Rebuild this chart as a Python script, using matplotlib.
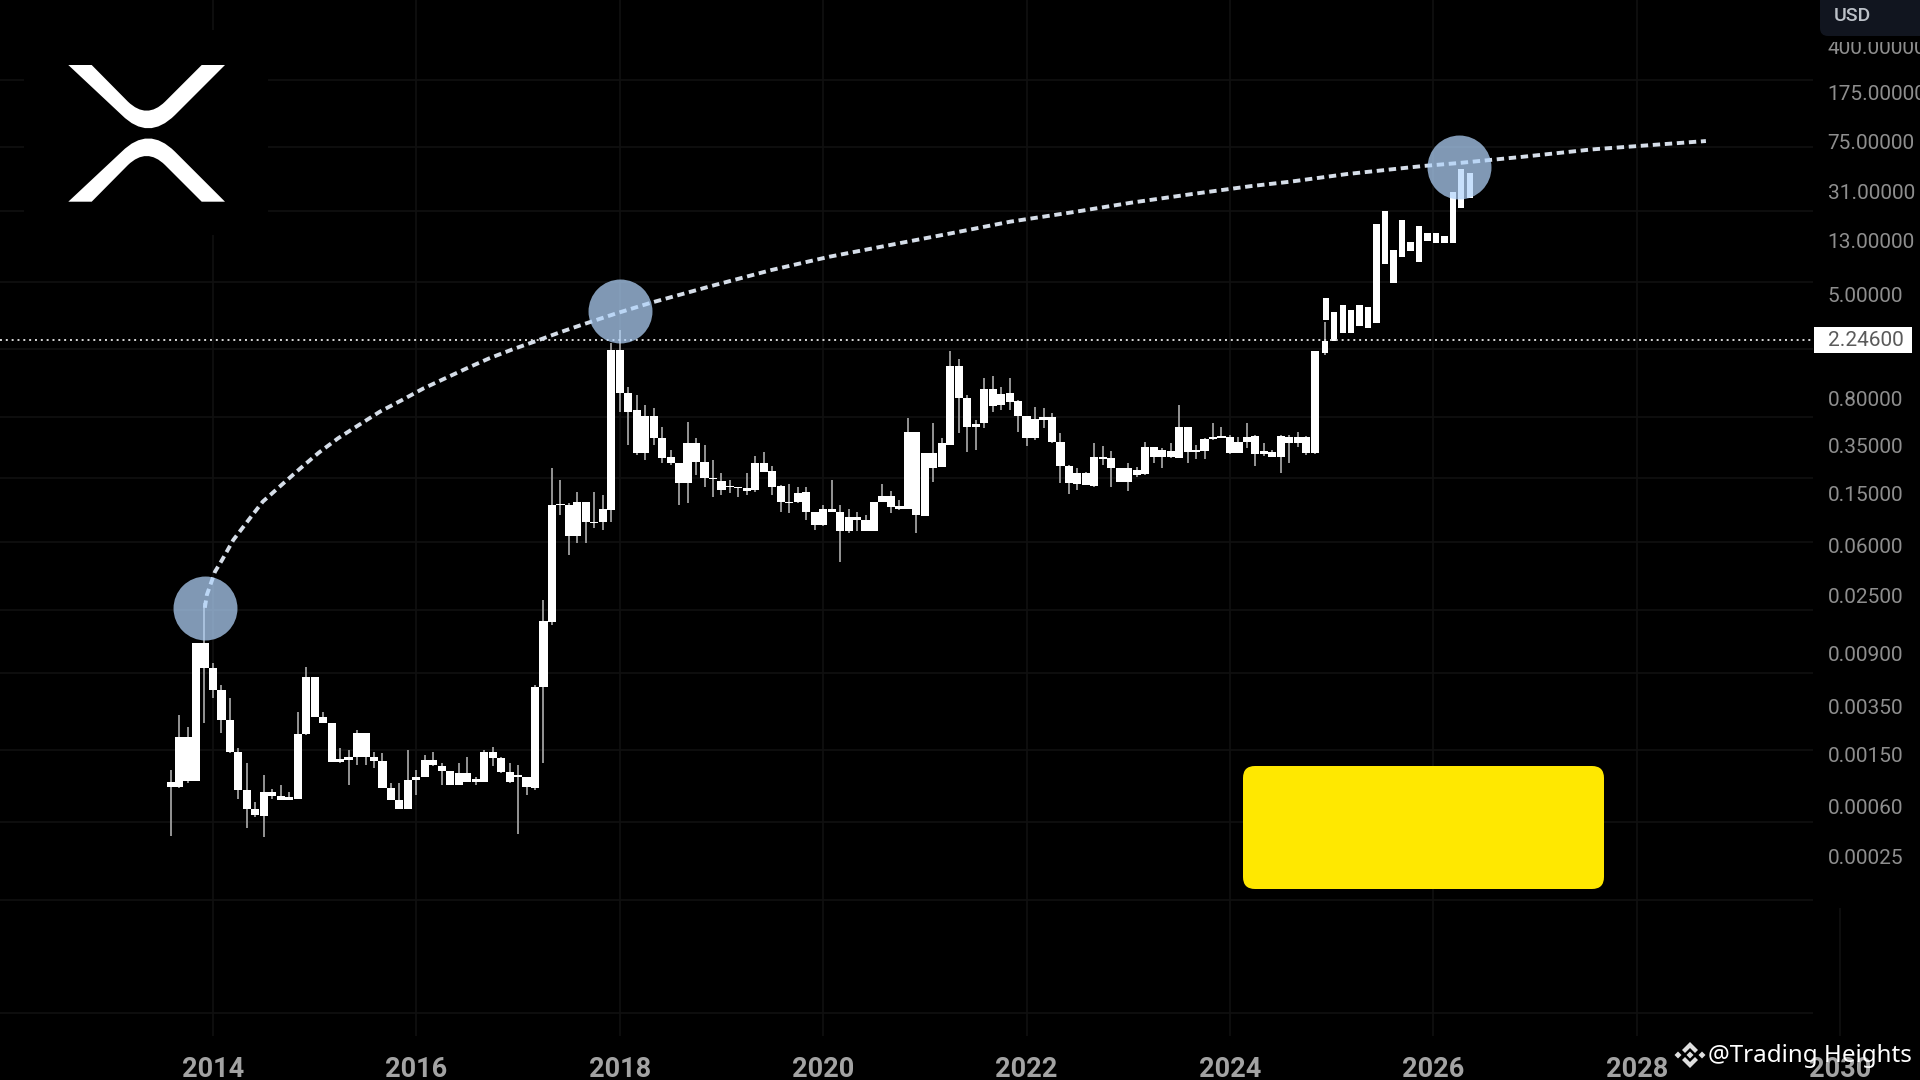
import matplotlib
matplotlib.use("Agg")
import matplotlib.pyplot as plt
from matplotlib.patches import FancyBboxPatch, PathPatch, Polygon, Rectangle
from matplotlib.path import Path

# monthly candles, first one is aug 2013. month 136 shows up twice in the picture
# and the candles after it sit a bit late
start_year = 2013 + 7 / 12
months = list(range(136)) + [136.2] + [m + 0.3 for m in range(136, 154)]

highs = [
    .00115, .00302, .00246, .0107, .0216, .00751, .00513, .00406, .00168, .00129,
    .00065, .00105, .00082, .00088, .00078, .00320, .00708, .00594, .00320, .00261,
    .00168, .00163, .00232, .00219, .00158, .00154, .00091, .00091, .00163, .00115,
    .00149, .00158, .00129, .00112, .00129, .00145, .00102, .00163, .00173, .00145,
    .00129, .00125, .00102, .00513, .0230, .234, .190, .126, .155, .130,
    .155, .146, 2.12, 2.68, .987, .850, .715, .680, .481, .323,
    .255, .532, .397, .353, .271, .214, .190, .169, .214, .291,
    .314, .244, .175, .178, .167, .169, .109, .122, .190, .122,
    .115, .109, .103, .130, .178, .158, .134, .565, .446, .309,
    .523, .397, 1.86, 1.62, .852, .548, 1.14, 1.19, .987, 1.14,
    .780, .590, .694, .674, .617, .433, .248, .237, .220, .363,
    .348, .319, .234, .259, .241, .375, .343, .333, .363, .715,
    .481, .353, .397, .523, .487, .421, .409, .517, .421, .367,
    .323, .421, .421, .446, .413, 1.86,
    3.10, 4.68, 3.70, 4.16, 3.81, 4.16, 3.99, 17.5, 21.9, 10.97,
    18.6, 12.7, 16.7, 14.7, 14.7, 14.0, 30.7, 45.5, 42.4,
]
tops = [
    .00093, .00206, .00206, .0107, .0107, .00688, .00470, .00277, .00156, .00080,
    .00058, .00078, .00078, .00072, .00071, .00216, .00594, .00594, .00291, .00261,
    .00140, .00143, .00219, .00219, .00145, .00134, .00083, .00068, .00096, .00102,
    .00137, .00137, .00123, .00112, .00108, .00108, .00097, .00158, .00158, .00141,
    .00110, .00105, .00101, .00498, .0158, .122, .125, .122, .130, .130,
    .0915, .114, 1.88, 1.88, .887, .654, .592, .592, .397, .283,
    .255, .367, .367, .263, .198, .188, .172, .169, .165, .255,
    .255, .224, .171, .130, .151, .153, .109, .115, .115, .109,
    .099, .099, .094, .130, .144, .144, .121, .446, .446, .309,
    .305, .363, 1.42, 1.42, .803, .510, .942, .942, .867, .877,
    .770, .590, .554, .575, .582, .375, .243, .214, .214, .287,
    .287, .279, .234, .234, .229, .343, .339, .323, .319, .481,
    .481, .323, .390, .404, .413, .409, .375, .409, .413, .319,
    .314, .413, .409, .404, .404, 1.86,
    2.22, 4.68, 3.70, 4.16, 3.81, 4.16, 3.99, 17.5, 21.9, 10.97,
    18.6, 12.7, 16.7, 14.7, 14.7, 14.0, 30.7, 45.5, 42.4,
]
bottoms = [
    .00085, .00085, .00094, .00094, .00688, .00470, .00277, .00156, .00080, .00058,
    .00052, .00051, .00072, .00067, .00067, .00069, .00216, .00291, .00261, .00133,
    .00132, .00137, .00145, .00145, .00134, .00083, .00068, .00058, .00058, .00096,
    .00102, .00125, .00112, .00088, .00088, .00093, .00093, .00093, .00141, .00110,
    .00093, .00101, .00085, .00083, .00498, .0156, .122, .0710, .0710, .0915,
    .0890, .0915, .112, .877, .635, .305, .305, .397, .279, .255,
    .180, .180, .263, .196, .193, .160, .167, .165, .158, .160,
    .220, .169, .130, .126, .128, .109, .0865, .0865, .109, .0768,
    .0768, .094, .0768, .0768, .130, .119, .115, .115, .103, .100,
    .237, .241, .353, .803, .481, .481, .517, .702, .715, .757,
    .590, .397, .397, .548, .375, .243, .180, .177, .175, .171,
    .274, .234, .183, .183, .208, .212, .283, .283, .287, .279,
    .314, .314, .319, .390, .397, .305, .305, .375, .301, .301,
    .287, .287, .363, .363, .305, .309,
    1.80, 3.19, 2.22, 2.52, 2.52, 2.87, 2.76, 3.01, 8.57, 6.17,
    9.75, 10.8, 8.93, 12.9, 12.5, 12.5, 12.5, 22.9, 27.3,
]
lows = [
    .00036, .00083, .00091, .00094, .00261, .00406, .00219, .00154, .00069, .00041,
    .00050, .00035, .00069, .00067, .00067, .00069, .00212, .00291, .00261, .00133,
    .00129, .00088, .00125, .00125, .00118, .00083, .00067, .00058, .00058, .00074,
    .00102, .00122, .00088, .00088, .00088, .00093, .00088, .00093, .00122, .00108,
    .00091, .00037, .00074, .00080, .00129, .0147, .103, .0509, .0624, .0624,
    .0815, .079, .0915, .635, .353, .296, .271, .353, .255, .248,
    .122, .126, .208, .169, .142, .146, .151, .142, .146, .155,
    .220, .146, .109, .106, .126, .094, .079, .084, .109, .0452,
    .0745, .0768, .0768, .0768, .130, .107, .112, .115, .0745, .100,
    .185, .241, .353, .433, .314, .323, .473, .635, .654, .654,
    .446, .348, .385, .473, .367, .180, .149, .160, .175, .169,
    .248, .169, .183, .158, .202, .208, .255, .237, .279, .279,
    .259, .274, .274, .385, .397, .301, .305, .333, .243, .291,
    .287, .214, .255, .343, .296, .30,
    1.72, 3.19, 2.22, 2.52, 2.52, 2.87, 2.76, 3.01, 8.57, 6.17,
    9.75, 10.8, 8.93, 12.9, 12.5, 12.5, 12.5, 22.9, 27.3,
]

trend_years = [2013.92, 2013.94, 2014.02, 2014.09, 2014.20, 2014.35, 2014.49, 2014.68,
               2014.86, 2015.04, 2015.23, 2015.45, 2015.64, 2015.86, 2016.07, 2016.28,
               2016.51, 2016.72, 2016.95, 2017.18, 2017.41, 2017.64, 2017.97, 2018.31,
               2018.90, 2019.49, 2020.06, 2020.66, 2021.25, 2021.84, 2022.44, 2023.03,
               2023.62, 2024.21, 2024.59, 2025.15, 2025.90, 2026.25, 2026.85, 2027.56, 2028.68]
trend_prices = [.0200, .0251, .0378, .0465, .0661, .0940, .130, .176,
                .234, .308, .397, .511, .634, .780, .957, 1.14,
                1.38, 1.63, 1.91, 2.21, 2.57, 2.96, 3.60, 4.34,
                5.82, 7.71, 9.75, 12.0, 14.7, 18.1, 21.3, 25.3,
                29.4, 33.9, 36.6, 41.9, 48.3, 50.9, 56.5, 64.7, 75]

circle_years = [2013.92, 2018.0, 2026.25]
circle_prices = [.0199, 3.74, 47.4]

last_price = 2.246
price_ticks = [400, 175, 75, 31, 13, 5, .8, .35, .15, .06, .025, .009, .0035, .0015, .0006, .00025]
year_ticks = [2014, 2016, 2018, 2020, 2022, 2024, 2026, 2028, 2030]
grid_prices = [220, 67, 22, 6.2, 1.9, .58, .197, .064, .0192, .0063, .00163, .00046, .000115, .0000158]

fig = plt.figure(figsize=(19.2, 10.8), dpi=100, facecolor="black")
ax = fig.add_axes([0, 0, 1, 1], facecolor="black")
ax.set_yscale("log")
ax.set_xlim(2011.906, 2030.785)
ax.set_ylim(10 ** -5.315, 10 ** 2.955)
for s in ax.spines.values():
    s.set_visible(False)

# grid
grid_color = "#101010"
ax.hlines(grid_prices, 2011.906, 2029.73, color=grid_color, lw=1.2, zorder=1)
ax.vlines(year_ticks[:-1], 10 ** -4.98, 10 ** 2.955, color=grid_color, lw=1.2, zorder=1)
ax.vlines(year_ticks[-1], 10 ** -4.98, 10 ** -4.0, color=grid_color, lw=1.2, zorder=1)

# candles, the last ones are drawn narrower in the picture
xs = [start_year + m / 12 for m in months]
ax.vlines(xs, lows, highs, color="#959595", lw=1.4, zorder=3)
heights = [t - b for t, b in zip(tops, bottoms)]
widths = [0.08 if m < 136 else 0.062 for m in months]
ax.bar(xs, heights, bottom=bottoms, width=widths, color="white", lw=0, zorder=4)

# last price line and log curve
ax.axhline(last_price, xmax=0.945, color="#d8d8d8", lw=1.4, ls=(0, (1, 2)), zorder=5)
ax.plot(trend_years, trend_prices, color="#d5dde8", lw=2.8, ls=(0, (1.9, 1.2)), zorder=5)
ax.scatter(circle_years, circle_prices, s=2120, color="#b2d4fb", alpha=0.72, lw=0, zorder=6)

# axis labels sit inside the picture
ax.yaxis.tick_right()
ax.set_yticks(price_ticks)
ax.set_yticklabels([f"{p:.5f}" for p in price_ticks])
ax.minorticks_off()
ax.tick_params(axis="y", length=0, pad=-66.5, labelsize=15, labelcolor="#8e8e8e")
ax.set_xticks(year_ticks)
ax.set_xticklabels([str(y) for y in year_ticks], fontweight="bold")
ax.tick_params(axis="x", length=0, pad=-17, labelsize=19.5, labelcolor="#a3a3a3")
for lab in ax.get_xticklabels() + ax.get_yticklabels():
    lab.set_fontfamily("Roboto")

# overlay in picture pixels for logo, box and watermark
ov = fig.add_axes([0, 0, 1, 1], facecolor="none")
ov.set_xlim(0, 1920)
ov.set_ylim(1080, 0)
ov.axis("off")

ov.add_patch(Rectangle((24, 30), 244, 205, color="black", lw=0))


def logo_part(flip):
    # upper chevron of the XRP mark, flip gives the lower one
    pts = [(68.3, 65), (91.7, 65), (128, 101.7), (146.7, 119.7), (165, 101.7),
           (201.7, 65), (225, 65), (175, 115), (148.3, 141.6), (121.7, 115), (68.3, 65)]
    codes = [Path.MOVETO, Path.LINETO, Path.LINETO, Path.CURVE3, Path.CURVE3, Path.LINETO,
             Path.LINETO, Path.LINETO, Path.CURVE3, Path.CURVE3, Path.CLOSEPOLY]
    if flip:
        pts = [(x, 266.7 - y) for x, y in pts]
    return PathPatch(Path(pts, codes), facecolor="white", lw=0)


ov.add_patch(logo_part(False))
ov.add_patch(logo_part(True))

ov.add_patch(FancyBboxPatch((1255, 778), 337, 99, boxstyle="round,pad=12,rounding_size=12",
                            facecolor="#ffe800", lw=0))
ov.add_patch(Rectangle((1818, 30), 102, 12, color="black", lw=0))
ov.add_patch(FancyBboxPatch((1826, -20), 120, 50, boxstyle="round,pad=6,rounding_size=8",
                            facecolor="#11151f", lw=0))
ov.text(1834, 16, "USD", color="#bcc1c8", fontsize=14, family="Roboto", fontweight="medium", va="center")

ov.add_patch(Rectangle((1814, 327), 98, 26, facecolor="white", lw=0))
ov.text(1828, 340, "2.24600", color="#5a5a5a", fontsize=15, family="Roboto", va="center")

# watermark
mark = "#dedede"
ov.add_patch(Polygon([(1690, 1042), (1698, 1050), (1695, 1053), (1690, 1048), (1685, 1053), (1682, 1050)], color=mark, lw=0))
ov.add_patch(Polygon([(1690, 1068), (1698, 1060), (1695, 1057), (1690, 1062), (1685, 1057), (1682, 1060)], color=mark, lw=0))
for cx in [1678, 1690, 1702]:
    ov.add_patch(Polygon([(cx - 3.5, 1055), (cx, 1051.5), (cx + 3.5, 1055), (cx, 1058.5)], color=mark, lw=0))
ov.text(1708, 1056, "@Trading Heights", color="white", fontsize=17.4, family="Noto Sans", va="center")

fig.savefig("out.png", dpi=100, facecolor="black")
